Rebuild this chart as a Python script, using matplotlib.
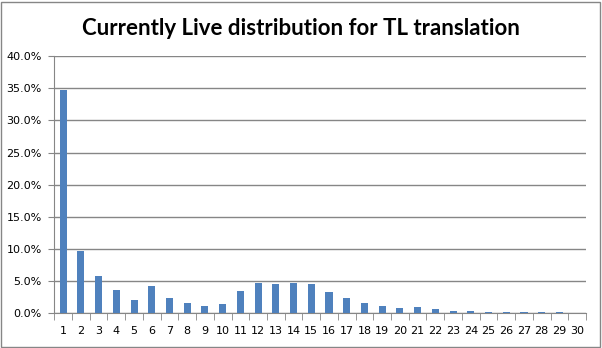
import matplotlib.pyplot as plt
from matplotlib.patches import Rectangle
from matplotlib.ticker import FuncFormatter
import numpy as np

# share of live items by translation count
categories = list(range(1, 31))
share = [34.7, 9.7, 5.8, 3.6, 2.1, 4.2, 2.4, 1.6, 1.1, 1.45,
         3.45, 4.7, 4.55, 4.7, 4.55, 3.3, 2.35, 1.6, 1.15, 0.85,
         0.95, 0.65, 0.35, 0.35, 0.2, 0.2, 0.2, 0.2, 0.2, 0.0]
y_ticks = np.arange(0, 45, 5)

fig = plt.figure(figsize=(6.02, 3.48), dpi=100)
ax = fig.add_axes([0.0902, 0.0997, 0.8832, 0.7393])

x = np.arange(len(categories))
ax.bar(x, share, width=0.4, color='#4F81BD', zorder=3)

ax.set_xlim(-0.5, len(categories) - 0.5)
ax.set_ylim(0, 40)
ax.set_yticks(y_ticks)
ax.yaxis.set_major_formatter(FuncFormatter(lambda v, p: f'{v:.1f}%'))
ax.set_xticks(x)
ax.set_xticklabels([str(c) for c in categories])
ax.set_xticks(np.arange(-0.5, len(categories)), minor=True)

ax.grid(axis='y', color='#868686', linewidth=1, zorder=0)
for s in ['top', 'right']:
    ax.spines[s].set_visible(False)
for s in ['left', 'bottom']:
    ax.spines[s].set_color('#868686')
ax.tick_params(axis='y', length=4, color='#868686', labelsize=8, pad=5)
ax.tick_params(axis='x', which='major', length=0, labelsize=8, pad=9)
ax.tick_params(axis='x', which='minor', length=5, color='#868686')

fig.text(0.5, 0.918, 'Currently Live distribution for TL translation',
         ha='center', va='center', fontsize=16, fontweight='bold',
         family='Lato')

# chart border
fig.patches.append(Rectangle((0.002, 0.004), 0.994, 0.99, transform=fig.transFigure,
                             fill=False, edgecolor='#868686', linewidth=1))

fig.savefig('out.png', dpi=100)
